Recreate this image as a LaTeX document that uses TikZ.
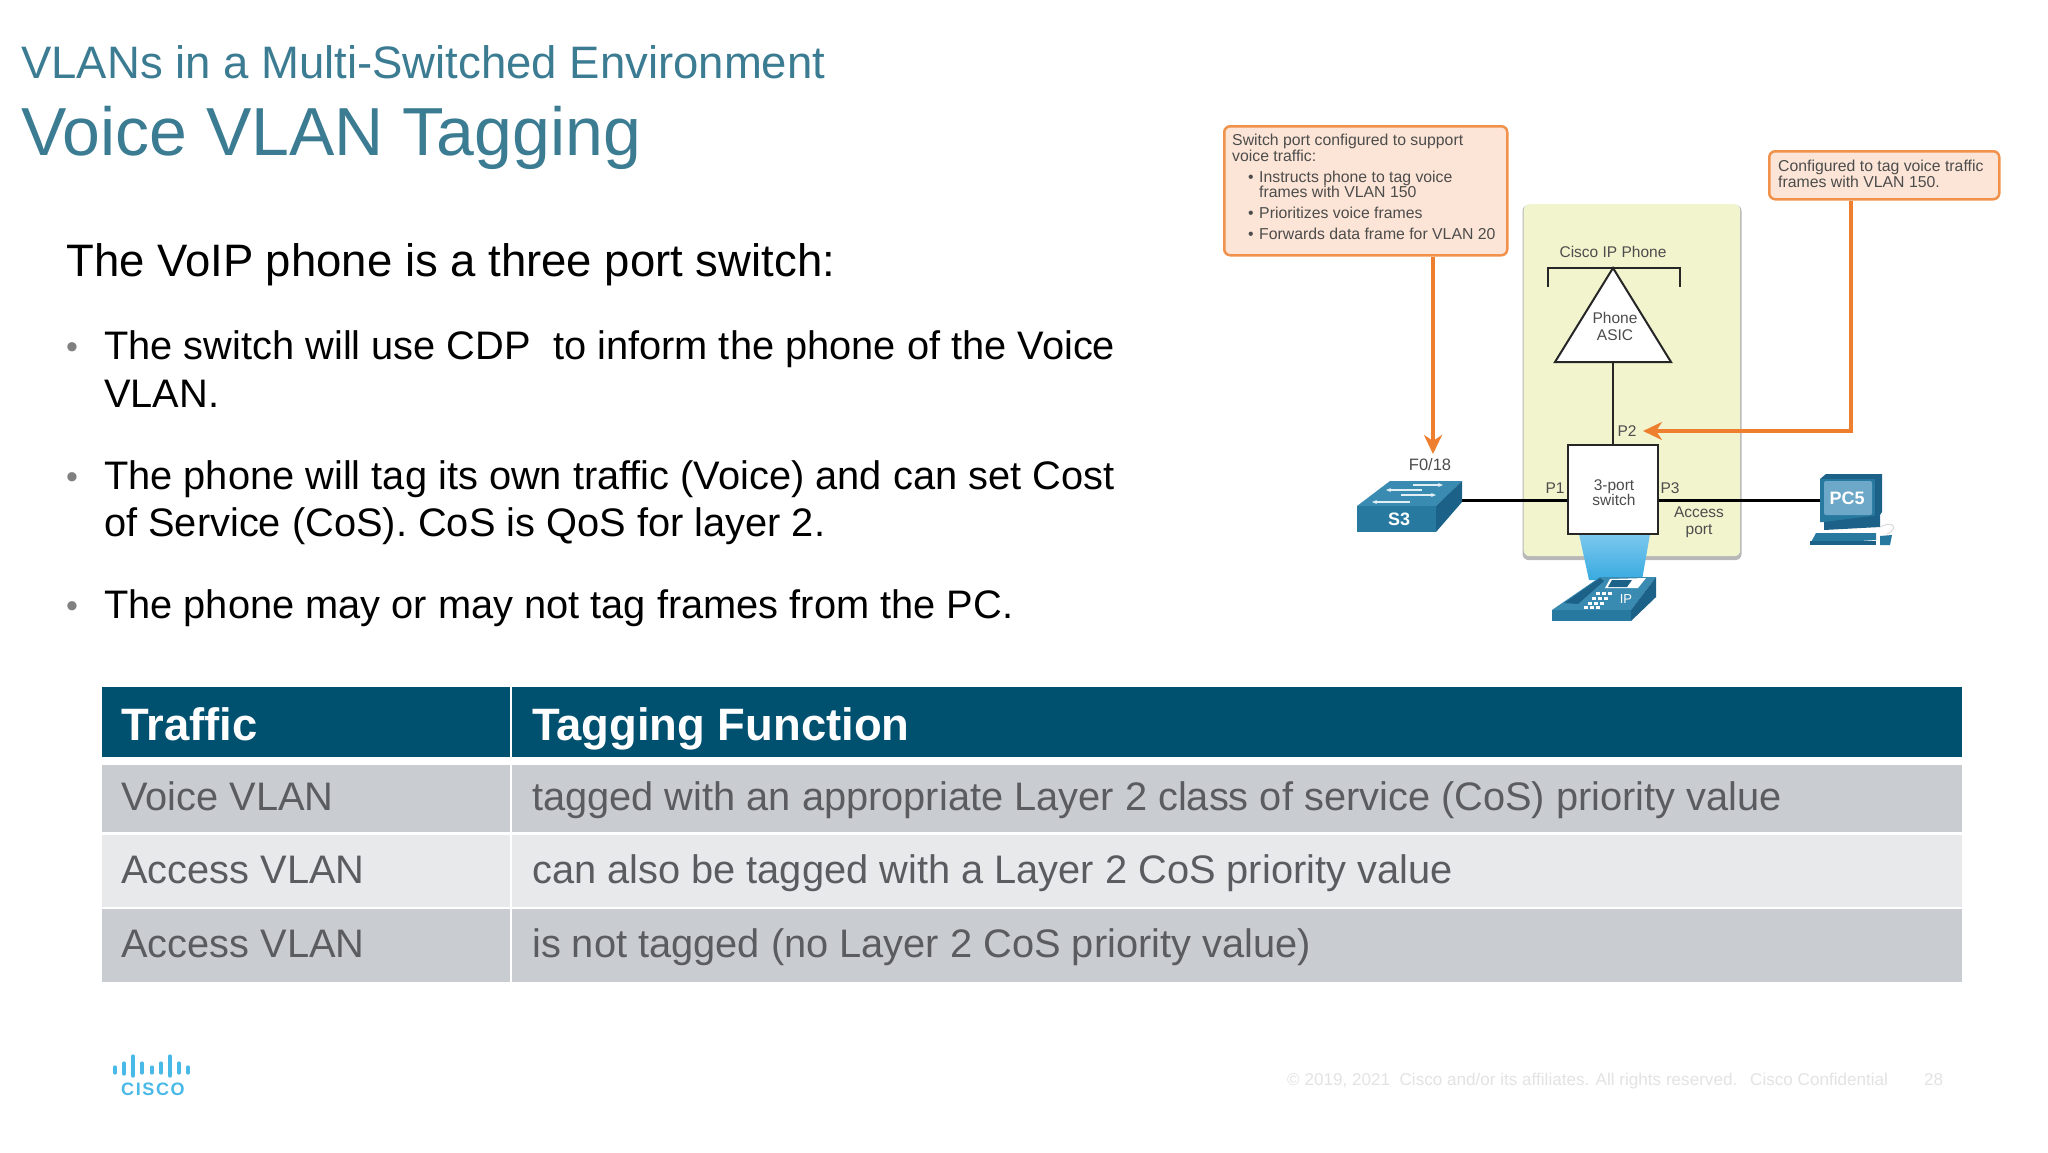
\documentclass[tikz,border=0pt]{standalone}
\usepackage{fontspec}
\setmainfont{Liberation Sans}
\newfontfamily\logofont[LetterSpace=9]{Liberation Sans}
\usetikzlibrary{arrows.meta,positioning,calc}

\definecolor{titleblue}{HTML}{3B7C93}
\definecolor{headblue}{HTML}{00506F}
\definecolor{rowdark}{HTML}{C9CCD1}
\definecolor{rowlight}{HTML}{E8E9EB}
\definecolor{rowtext}{HTML}{5A5C60}
\definecolor{callfill}{HTML}{FCE5D6}
\definecolor{callline}{HTML}{F0924C}
\definecolor{arrowor}{HTML}{EE7F2E}
\definecolor{panelfill}{HTML}{F2F4CE}
\definecolor{logoblue}{HTML}{49B9E8}
\definecolor{devfront}{HTML}{28799F}
\definecolor{devtop}{HTML}{3A8BB2}
\definecolor{devside}{HTML}{1C6288}
\definecolor{screenblue}{HTML}{6DA8C8}
\definecolor{beamtop}{HTML}{7CC8EE}
\definecolor{beambot}{HTML}{38AAE0}

\newcommand{\fsz}[1]{\fontsize{#1}{#1}\selectfont}

\tikzset{
  txt/.style={inner sep=0pt,anchor=base west},
  title1/.style={txt,text=titleblue,font=\fsz{45.5}},
  title2/.style={txt,text=titleblue,font=\fsz{68}},
  lead/.style={txt,text=black,font=\fsz{45.5}},
  body/.style={txt,text=black,font=\fsz{39.8}},
  dot/.style={inner sep=0pt,anchor=base,text=gray,font=\fsz{34}},
  cell/.style={inner sep=0pt,anchor=north west},
  headtxt/.style={txt,text=white,font=\fsz{45.4}\bfseries},
  rowtxt/.style={txt,text=rowtext,font=\fsz{39.8}},
  callout/.style={inner sep=0pt,anchor=north west,fill=callfill,draw=callline,line width=2.5pt,rounded corners=6pt},
  calltxt/.style={txt,text=black!70,font=\fsz{15.8}},
  lbl/.style={inner sep=0pt,anchor=base,text=black!70,font=\fsz{15.5}},
  orangearrow/.style={arrowor,line width=4pt,-{Stealth[length=19pt,width=18pt,inset=6pt]}},
  wire/.style={black,line width=3pt},
  thinwire/.style={black!85,line width=2pt},
  foot/.style={txt,text=black!11,font=\fsz{17.1}},
  devtxt/.style={inner sep=0pt,text=white,font=\fsz{18}\bfseries}
}

\begin{document}
\begin{tikzpicture}[x=1pt,y=-1pt]
\useasboundingbox (0,0) rectangle (2048,1152);
\fill[white] (0,0) rectangle (2048,1152);

% titles and text
\node[title1] (topic) at (21,78) {VLANs in a Multi-Switched Environment};
\node[title2] (slidehead) at (21,155) {Voice VLAN Tagging};
\node[lead] (leadline) at (66,276) {The VoIP phone is a three port switch:};
\node[dot] (dotA) at (72,358) {•};
\node[body] (bulletA) at (104,359) {The switch will use CDP\ \ to inform the phone of the Voice};
\node[body] (bulletAb) at (104,407) {VLAN.};
\node[dot] (dotB) at (72,488) {•};
\node[body] (bulletB) at (104,489) {The phone will tag its own traffic (Voice) and can set Cost};
\node[body] (bulletBb) at (104,536) {of Service (CoS). CoS is QoS for layer 2.};
\node[dot] (dotC) at (72,617) {•};
\node[body] (bulletC) at (104,618) {The phone may or may not tag frames from the PC.};

% table
\node[cell,fill=headblue,minimum width=408pt,minimum height=70pt] (headA) at (102,687) {};
\node[cell,fill=headblue,minimum width=1450pt,minimum height=70pt] (headB) at (512,687) {};
\node[cell,fill=rowdark,minimum width=408pt,minimum height=67pt] (voiceA) at (102,765) {};
\node[cell,fill=rowdark,minimum width=1450pt,minimum height=67pt] (voiceB) at (512,765) {};
\node[cell,fill=rowlight,minimum width=408pt,minimum height=72pt] (accessA) at (102,835) {};
\node[cell,fill=rowlight,minimum width=1450pt,minimum height=72pt] (accessB) at (512,835) {};
\node[cell,fill=rowdark,minimum width=408pt,minimum height=73pt] (plainA) at (102,909) {};
\node[cell,fill=rowdark,minimum width=1450pt,minimum height=73pt] (plainB) at (512,909) {};
\node[headtxt] (headAt) at (121,740) {Traffic};
\node[headtxt] (headBt) at (532,740) {Tagging Function};
\node[rowtxt] (voiceAt) at (121,810) {Voice VLAN};
\node[rowtxt] (voiceBt) at (532,810) {tagged with an appropriate Layer 2 class of service (CoS) priority value};
\node[rowtxt] (accessAt) at (121,883) {Access VLAN};
\node[rowtxt] (accessBt) at (532,883) {can also be tagged with a Layer 2 CoS priority value};
\node[rowtxt] (plainAt) at (121,957) {Access VLAN};
\node[rowtxt] (plainBt) at (532,957) {is not tagged (no Layer 2 CoS priority value)};

% footer
\foreach \bx/\blo/\bhi in {115/1067/1073,124/1063/1074,133/1056/1076,142/1063/1073,152/1067/1073,161/1063/1073,170/1056/1076,179/1063/1073,188/1067/1073}
  \draw[logoblue,line width=3.2pt,line cap=round] (\bx,\blo) -- (\bx,\bhi);
\node[txt,text=logoblue,font=\fsz{18}\logofont\bfseries] (logo) at (121,1095) {CISCO};
\node[foot] (copyright) at (1287,1085) {© 2019, 2021\ \ Cisco and/or its affiliates. All rights reserved.};
\node[foot] (confidential) at (1750,1085) {Cisco Confidential};
\node[foot] (pageno) at (1924,1085) {28};

% phone panel
\fill[black!28,rounded corners=6pt] (1522.5,205) rectangle (1741.5,560);
\node[cell,fill=panelfill,rounded corners=6pt,minimum width=216.5pt,minimum height=352pt] (panel) at (1523.5,204) {};
\shade[top color=beamtop,bottom color=beambot] (1579,534) -- (1650,534) -- (1642,580) -- (1589,580) -- cycle;

% callouts
\node[callout,minimum width=283pt,minimum height=129pt] (callA) at (1223,125) {};
\node[calltxt] (callAa) at (1232,145) {Switch port configured to support};
\node[calltxt] (callAb) at (1232,161) {voice traffic:};
\node[calltxt] (dotAa) at (1248,182) {•};
\node[calltxt] (callAc) at (1259,182) {Instructs phone to tag voice};
\node[calltxt] (callAd) at (1259,197) {frames with VLAN 150};
\node[calltxt] (dotAb) at (1248,218) {•};
\node[calltxt] (callAe) at (1259,218) {Prioritizes voice frames};
\node[calltxt] (dotAc) at (1248,239) {•};
\node[calltxt] (callAf) at (1259,239) {Forwards data frame for VLAN 20};
\node[callout,minimum width=230pt,minimum height=48pt] (callB) at (1768,150) {};
\node[calltxt] (callBa) at (1778,171) {Configured to tag voice traffic};
\node[calltxt] (callBb) at (1778,187) {frames with VLAN 150.};

% inside the phone
\node[lbl] (phonelbl) at (1613,257) {Cisco IP Phone};
\coordinate (bracketL) at (1548,268);
\coordinate (bracketR) at (1680,268);
\coordinate (apex) at (1613,268);
\coordinate (asicL) at (1555,362);
\coordinate (asicR) at (1671,362);
\coordinate (asicB) at (1613,362);
\draw[thinwire] ($(bracketL)+(0,19)$) -- (bracketL) -- (bracketR) -- ($(bracketR)+(0,19)$);
\filldraw[thinwire,fill=white] (apex) -- (asicR) -- (asicL) -- cycle;
\node[lbl,align=center] (asic) at (1615,340) {Phone\\[1pt]ASIC};
\node[draw=black!85,fill=white,line width=2.5pt,inner sep=0pt,minimum width=90pt,minimum height=89pt] (switch) at (1613,489.5) {};
\node[inner sep=0pt,align=center,text=black!70,font=\fsz{15.5}] (switchtxt) at (1614,492.5) {3-port\\[0pt]switch};
\draw[thinwire] (asicB) -- (switch.north);
\node[lbl] (ptwo) at (1627,436) {P2};
\node[lbl] (pone) at (1555,493) {P1};
\node[lbl] (pthree) at (1670,493) {P3};
\node[lbl,align=center] (accesslbl) at (1699,534) {Access\\[1pt]port};
\node[lbl,font=\fsz{16.5}] (flabel) at (1430,470) {F0/18};

% S3
\fill[devtop] (1357,506) -- (1390,481) -- (1462,481) -- (1436,506) -- cycle;
\fill[devfront] (1357,506) rectangle (1436,532);
\fill[devside] (1436,506) -- (1462,481) -- (1462,502) -- (1436,532) -- cycle;
\foreach \ax/\bx/\ay in {1413/1443/485,1422/1386/490,1401/1436/495,1410/1372/502}
  \draw[white!85!devtop,line width=1.6pt,-{Stealth[length=5pt,width=4pt]}] (\ax,\ay) -- (\bx,\ay);
\node[devtxt] (sthree) at (1399,519) {S3};
\coordinate (sport) at (1462,500);

% PC5
\fill[devside] (1820,479) -- (1826,474) -- (1882,474) -- (1882,512) -- (1875,522) -- (1820,522) -- cycle;
\fill[devfront] (1820,479) rectangle (1875,522);
\fill[screenblue,rounded corners=2pt] (1824,481) rectangle (1872,515);
\fill[devside] (1824,522) -- (1880,515) -- (1880,527) -- (1824,530) -- cycle;
\fill[devfront] (1816,533) -- (1876,533) -- (1876,540) -- (1810,544) -- cycle;
\fill[devside] (1810,541) rectangle (1876,545);
\fill[devfront] (1880,536) -- (1892,535) -- (1890,545) -- (1880,545) -- cycle;
\draw[black!15,line width=1pt] (1880,527) .. controls (1892,520) and (1900,528) .. (1887,534);
\node[devtxt] (pcfive) at (1847,498) {PC5};
\coordinate (pcport) at (1820,500);

% IP phone
\fill[devtop] (1552,610) -- (1600,577) -- (1656,577) -- (1631,610) -- cycle;
\fill[devfront] (1552,610) rectangle (1631,621);
\fill[devside] (1631,610) -- (1656,577) -- (1656,597) -- (1631,621) -- cycle;
\fill[devside] (1564,603) -- (1600,578) -- (1604,581) -- (1578,604) -- cycle;
\fill[white] (1610,579) -- (1646,578) -- (1638,588) -- (1605,588) -- cycle;
\fill[devside] (1612,580) -- (1632,580) -- (1627,587) -- (1608,587) -- cycle;
\foreach \kx/\ky in {1596/592,1602/592,1608/592,1592/597,1598/597,1604/597,1588/602,1594/602,1600/602,1584/606,1590/606,1596/606}
  \fill[white] (\kx,\ky) rectangle ++(4,3);
\node[inner sep=0pt,text=white,font=\fsz{13}] (iptxt) at (1626,599) {IP};

% connectors
\draw[wire] (sport) -- (sport -| switch.west);
\draw[wire] (pcport -| switch.east) -- (pcport);
\coordinate (tipA) at (1433,454);
\coordinate (cornerB) at (1851,431);
\coordinate (tipB) at (1643,431);
\draw[orangearrow] (callA.south -| tipA) -- (tipA);
\draw[orangearrow] (callB.south -| cornerB) -- (cornerB) -- (tipB);
\end{tikzpicture}
\end{document}
